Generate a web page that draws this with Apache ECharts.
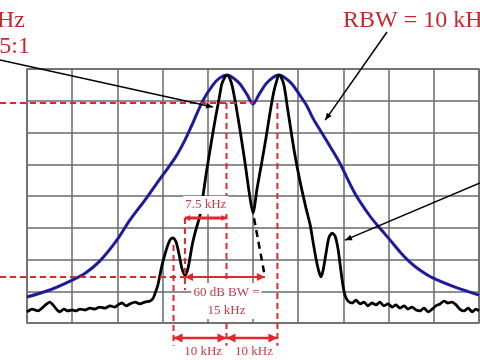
<!DOCTYPE html>
<html><head><meta charset="utf-8">
<script src="https://cdn.jsdelivr.net/npm/echarts@6/dist/echarts.min.js"></script>
<style>html,body{margin:0;padding:0;background:#fff}#c{width:480px;height:360px}</style>
</head><body><div id="c"></div>
<script>
// ---- axis ranges (kHz offset from centre, dB) ----
const freqMin = -43.5, freqMax = 43.5, freqStep = 8.7;
const levelMin = -80, levelMax = 0, levelStep = 10;

// ---- RBW = 10 kHz trace (blue) ----
const blueFreq = [-43.5,-39.1,-35.2,-32.3,-29.5,-26.2,-23.7,-20.8,-17.9,-15.0,-13.1,-11.5,-9.6,-7.7,-6.4,-5.0,-3.8,-2.5,-1.2,0,1.2,2.5,3.7,5.0,6.2,7.5,9.0,10.4,11.5,12.9,14.8,16.7,19.6,22.5,24.4,26.4,28.3,30.2,32.1,34.6,38.9,43.5];
const blueLevel = [-71.8,-69.6,-66.8,-64.3,-60.5,-53.9,-47.6,-41.3,-34.6,-28.0,-22.4,-16.7,-9.8,-5.0,-2.8,-1.9,-2.8,-4.7,-7.9,-11.0,-7.9,-4.7,-2.8,-1.9,-2.8,-4.7,-8.2,-11.7,-15.4,-19.2,-24.3,-29.6,-39.1,-46.3,-50.1,-53.9,-57.6,-60.8,-63.3,-65.8,-68.7,-71.2];

// ---- narrow RBW trace (black) ----
const blackFreq = [-43.5,-42.5,-41.4,-40.6,-39.7,-39.1,-38.5,-37.7,-37.2,-36.4,
-35.6,-34.8,-34.1,-33.3,-32.3,-31.4,-30.4,-29.5,-28.5,-27.5,
-26.6,-26.0,-25.2,-24.4,-23.7,-22.7,-21.8,-20.8,-19.8,-19.2,
-18.9,-18.3,-17.5,-16.7,-16.0,-15.4,-14.8,-14.2,-13.7,-13.1,
-12.5,-11.7,-11.0,-10.2,-8.9,-7.3,-6.5,-6.0,-5.4,-5.0,
-4.6,-4.0,-3.3,-2.5,-1.5,-0.8,0,0.8,1.7,2.5,
3.3,4.0,4.6,5.0,5.4,6.0,6.7,7.9,9.0,10.2,
11.0,11.5,12.1,12.7,13.1,13.5,14.1,14.6,15.2,15.8,
16.4,16.9,17.3,17.7,18.3,19.1,19.8,20.6,21.4,22.1,
22.9,23.7,24.4,25.2,26.0,26.8,27.5,28.3,29.1,29.8,
30.6,31.4,32.1,32.9,33.7,34.5,35.2,36.0,36.8,37.5,
38.3,39.1,39.8,40.6,41.4,42.2,42.9,43.5];
const blackLevel = [-76.5,-75.6,-76.2,-75.3,-74.0,-73.4,-74.3,-75.9,-76.5,-75.6,
-76.2,-75.9,-76.2,-75.6,-75.9,-75.3,-75.6,-75.0,-75.3,-74.6,
-75.0,-74.3,-73.7,-74.6,-74.0,-73.4,-74.0,-73.4,-73.1,-72.1,
-70.9,-68.0,-61.7,-57.0,-53.9,-53.2,-54.5,-58.6,-62.7,-64.9,
-62.7,-55.4,-50.7,-46.0,-31.8,-16.1,-9.1,-4.7,-2.5,-1.9,
-2.5,-5.4,-11.3,-19.2,-29.9,-38.1,-45.4,-37.5,-29.3,-21.7,
-13.5,-7.2,-3.5,-1.9,-2.5,-5.4,-12.9,-25.5,-35.0,-43.8,
-49.1,-53.9,-59.5,-63.9,-65.5,-63.3,-57.6,-53.2,-51.7,-52.6,
-57.0,-63.3,-68.0,-71.2,-73.1,-73.7,-72.8,-74.0,-73.4,-74.6,
-73.7,-74.3,-73.4,-74.6,-74.0,-75.0,-74.3,-75.3,-74.6,-75.6,
-75.0,-75.9,-76.2,-75.3,-76.5,-75.6,-74.6,-74.0,-73.1,-73.7,
-73.4,-74.3,-75.6,-76.2,-75.3,-76.5,-75.6,-76.2];

// ---- hidden skirt of the left signal (dashed) ----
const skirtFreq = [0.2, 2.3];
const skirtLevel = [-47.0, -65.5];

// ---- annotation anchors ----
const refTopDb = -10.7, ref60Db = -65.5, bracketDb = -46.9, dimArrowDb = -84.7, dimLineEndDb = -87.2;
const dimFreqs = [-15.3, -5.1, 4.7];
const bw60Freqs = [-13.1, 2.3];
const bw75Freqs = [-13.1, -5.1];
const labelTexts = ['7.5 kHz', '60 dB BW =\n15 kHz', '10 kHz', 'RBW = 10 kHz', 'Hz', '5:1'];

const zip = (a, b) => a.map((v, i) => [v, b[i]]);
const chart = echarts.init(document.getElementById('c'), null, {renderer: 'canvas'});
const gridColor = '#6a6a6a';
chart.setOption({
  animation: false,
  backgroundColor: '#fff',
  grid: {left: 27, right: 1, top: 69, bottom: 37, show: true, borderColor: gridColor, borderWidth: 1.5},
  xAxis: {type: 'value', min: freqMin, max: freqMax, interval: freqStep,
    axisLine: {show: false}, axisTick: {show: false}, axisLabel: {show: false},
    splitLine: {show: true, lineStyle: {color: gridColor, width: 1.5}}},
  yAxis: {type: 'value', min: levelMin, max: levelMax, interval: levelStep,
    axisLine: {show: false}, axisTick: {show: false}, axisLabel: {show: false},
    splitLine: {show: true, lineStyle: {color: gridColor, width: 1.5}}},
  series: [
    {type: 'line', data: zip(blueFreq, blueLevel), smooth: 0.3, showSymbol: false, z: 3,
      lineStyle: {color: '#1c1c9c', width: 3}},
    {type: 'line', data: zip(blackFreq, blackLevel), smooth: 0.25, showSymbol: false, z: 4,
      lineStyle: {color: '#000', width: 2.8}},
    {type: 'line', data: zip(skirtFreq, skirtLevel), showSymbol: false, z: 4,
      lineStyle: {color: '#000', width: 2.5, type: [7, 5]}}
  ]
});

const P = (f, d) => chart.convertToPixel({gridIndex: 0}, [f, d]);
const red = '#e2262c', textRed = '#c53a48', serif = '"Liberation Serif", "DejaVu Serif", serif';
const els = [];
function line(a, b, color, w, dash, z) {
  els.push({type: 'line', z: z || 50, shape: {x1: a[0], y1: a[1], x2: b[0], y2: b[1]},
    style: {stroke: color, lineWidth: w, lineDash: dash || null}});
}
function head(from, tip, color, len, hw, z) {
  const dx = tip[0] - from[0], dy = tip[1] - from[1];
  const L = Math.hypot(dx, dy) || 1, ux = dx / L, uy = dy / L;
  const bx = tip[0] - ux * len, by = tip[1] - uy * len;
  els.push({type: 'polygon', z: z || 51, shape: {points: [[tip[0], tip[1]], [bx - uy * hw, by + ux * hw], [bx + uy * hw, by - ux * hw]]},
    style: {fill: color}});
}
function dbl(a, b, color, w, len, hw) {
  line(a, b, color, w);
  head(b, a, color, len, hw);
  head(a, b, color, len, hw);
}
function text(str, pos, size, color, align, bg) {
  const st = {text: str, font: size + 'px ' + serif, fill: color, align: align || 'center', verticalAlign: 'middle', lineHeight: size + 5};
  if (bg) { st.backgroundColor = '#fff'; st.padding = [0, 2]; }
  els.push({type: 'text', z: 60, x: pos[0], y: pos[1], style: st});
}
const dash = [6, 4];
// horizontal reference lines
const top0 = P(0, refTopDb);
line([0, top0[1]], top0, red, 2, dash);
const low0 = P(bw60Freqs[0], ref60Db);
line([0, low0[1]], low0, red, 2, dash);
// verticals
line(P(dimFreqs[0], -55.4), P(dimFreqs[0], dimLineEndDb), red, 2, dash);
line(P(bw75Freqs[0], bracketDb), P(bw75Freqs[0], -69.6), red, 2, dash);
line(P(dimFreqs[1], refTopDb), P(dimFreqs[1], dimLineEndDb), red, 2, dash);
line(P(dimFreqs[2], refTopDb), P(dimFreqs[2], dimLineEndDb), red, 2, dash);
// dimension arrows
dbl(P(bw75Freqs[0], bracketDb), P(bw75Freqs[1], bracketDb), red, 3, 5, 3);
dbl(P(bw60Freqs[0], ref60Db), P(bw60Freqs[1], ref60Db), red, 2, 8, 4);
dbl(P(dimFreqs[0], dimArrowDb), P(dimFreqs[1], dimArrowDb), red, 2.5, 9, 4.5);
dbl(P(dimFreqs[1], dimArrowDb), P(dimFreqs[2], dimArrowDb), red, 2.5, 9, 4.5);
// labels
text(labelTexts[0], P(-9.1, -42.8), 13, textRed, 'center', true);
text(labelTexts[1], P(-5.1, -73.1), 13, textRed, 'center', true);
text(labelTexts[2], P(-9.6, -89.1), 13, textRed, 'center');
text(labelTexts[2], P(0.2, -89.1), 13, textRed, 'center');
// header texts
text(labelTexts[3], [343, 21], 24, '#c62a2f', 'left');
text(labelTexts[4], [25, 21], 24, '#c62a2f', 'right');
text(labelTexts[5], [30, 47], 24, '#c62a2f', 'right');
// pointer arrows
const ptrs = [[[0, 60], P(-7.7, -12.0)], [[387, 32], P(13.9, -16.1)], [[480, 183], P(17.7, -53.9)]];
ptrs.forEach(([a, b]) => { line(a, b, '#000', 1.5, null, 55); head(a, b, '#000', 7, 3, 56); });

chart.setOption({graphic: els});
</script>
</body></html>
